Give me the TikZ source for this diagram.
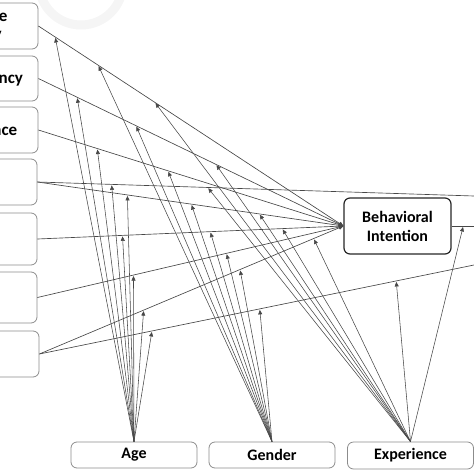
\documentclass[tikz,border=0pt]{standalone}
\usepackage{fontspec}
\setmainfont{Carlito}
\usetikzlibrary{arrows.meta}

\tikzset{
  factor/.style={draw=black!45, line width=0.8pt, rounded corners=6pt, minimum width=152pt,
    align=center, inner sep=0pt, font=\bfseries\fontsize{17}{18}\selectfont},
  moder/.style={factor, minimum width=126pt, minimum height=26pt, font=\bfseries\fontsize{16}{19}\selectfont},
  target/.style={moder, draw=black!85, line width=1.2pt, minimum width=107pt, minimum height=56pt},
  link/.style={draw=black!72, line width=0.65pt},
  tolink/.style={link, -{Triangle[length=4.5pt,width=4pt]}},
  mod/.style={draw=black!72, line width=0.55pt, -{Triangle[length=4.5pt,width=4pt]}, shorten >=1pt},
}

\begin{document}
\begin{tikzpicture}[x=1pt,y=-1pt]
  \useasboundingbox (0,0) rectangle (474,474);
%   \draw[gray!30] (0,0) grid[step=50] (474,474);
  \draw[gray!8, line width=9pt] (81,-17) circle[radius=42]; % faint mark

  % constructs, cut at the left edge
  \node[factor, minimum height=46pt] (pe) at (-38,26)  {Performance\\Expectancy};
  \node[factor, minimum height=45pt] (ee) at (-38,78.5) {Effort Expectancy};
  \node[factor, minimum height=46pt] (si) at (-38,130) {Social Influence};
  \node[factor, minimum height=46pt] (fc) at (-39,182) {Facilitating\\Conditions};
  \node[factor, minimum height=52pt] (hm) at (-39,239) {Hedonic\\Motivation};
  \node[factor, minimum height=51pt] (pv) at (-39,297.5) {Price Value};
  \node[factor, minimum height=46pt] (hb) at (-37,354) {Habit};

  \node[target] (bi) at (397.5,226) {Behavioral\\Intention};

  \node[moder] (age) at (134,455) {Age};
  \node[moder] (gen) at (272,455) {Gender};
  \node[moder, minimum height=27pt] (exp) at (410.5,455.5) {Experience};

  % towards use behaviour (off the picture)
  \coordinate (ub-fc) at (474,196);
  \coordinate (ub-bi) at (474,226);
  \coordinate (ub-hb) at (474,265);

  % paths into behavioral intention
  \draw[tolink] (pe.east) -- coordinate[pos=0.055] (pe-a) coordinate[pos=0.196] (pe-g) coordinate[pos=0.382] (pe-e) (bi.west);
  \draw[tolink] (ee.east) -- coordinate[pos=0.127] (ee-a) coordinate[pos=0.32] (ee-g) coordinate[pos=0.582] (ee-e) (bi.west);
  \draw[tolink] (si.east) -- coordinate[pos=0.193] (si-a) coordinate[pos=0.425] (si-g) (bi.west);
  \draw[tolink] (fc.east) -- coordinate[pos=0.294] (fc-a) coordinate[pos=0.503] (fc-g) coordinate[pos=0.725] (fc-e) (bi.west);
  \draw[tolink] (hm.east) -- coordinate[pos=0.278] (hm-a) coordinate[pos=0.565] (hm-g) coordinate[pos=0.80] (hm-e) (bi.west);
  \draw[tolink] (pv.east) -- coordinate[pos=0.314] (pv-a) coordinate[pos=0.618] (pv-g) (bi.west);
  \draw[tolink] (hb.east) -- coordinate[pos=0.343] (hb-a) coordinate[pos=0.66] (hb-g) coordinate[pos=0.902] (hb-e) (bi.west);

  % paths into use behaviour
  \draw[link] (fc.east) -- coordinate[pos=0.17] (fu-a) coordinate[pos=0.39] (fu-e) (ub-fc);
  \draw[link] (hb.east) -- coordinate[pos=0.259] (hu-a) coordinate[pos=0.507] (hu-g) coordinate[pos=0.821] (hu-e) (ub-hb);
  \draw[link] (bi.east) -- coordinate[pos=0.52] (bu-e) (ub-bi);

  % moderators
  \foreach \t in {pe-a,ee-a,si-a,fu-a,fc-a,hm-a,pv-a,hb-a,hu-a}
    \draw[mod] (age.north) -- (\t);
  \foreach \t in {pe-g,ee-g,si-g,fc-g,hm-g,pv-g,hb-g,hu-g}
    \draw[mod] (gen.north) -- (\t);
  \foreach \t in {pe-e,ee-e,fu-e,fc-e,hm-e,hb-e,hu-e,bu-e}
    \draw[mod] (exp.north) -- (\t);
\end{tikzpicture}
\end{document}
